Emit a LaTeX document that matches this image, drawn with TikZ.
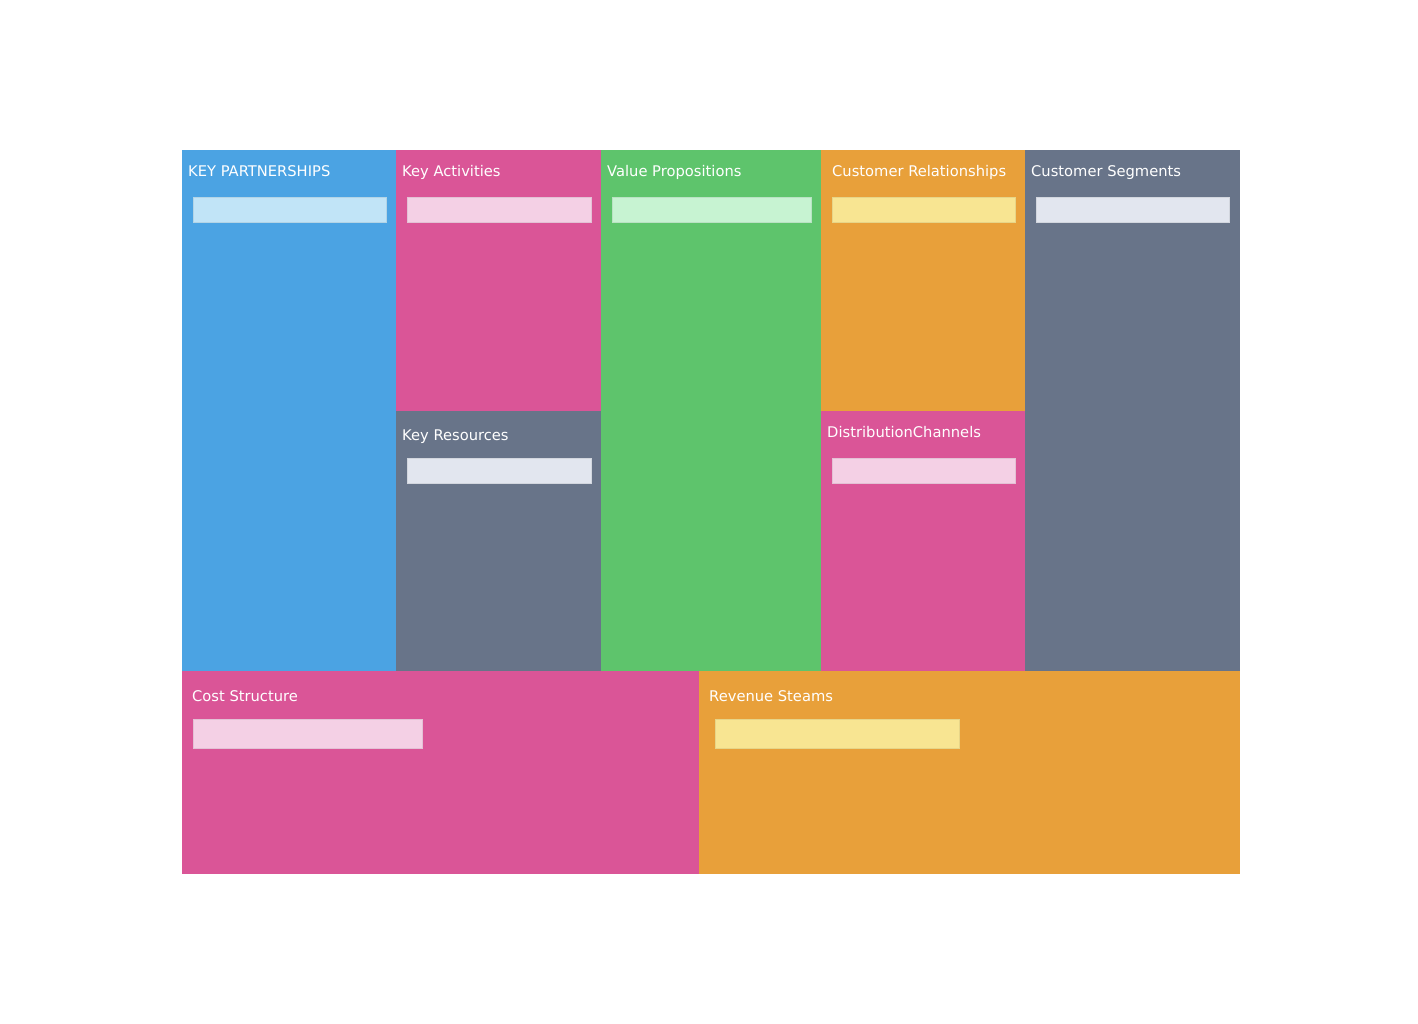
\documentclass[tikz,border=0pt]{standalone}
\usepackage{fontspec}
\setmainfont{DejaVu Sans}
\definecolor{cvblue}{HTML}{4BA3E3}
\definecolor{cvpink}{HTML}{DA5597}
\definecolor{cvgreen}{HTML}{5EC46C}
\definecolor{cvorange}{HTML}{E8A03A}
\definecolor{cvslate}{HTML}{687489}
\definecolor{barblue}{HTML}{C1E4F7}
\definecolor{barpink}{HTML}{F4D0E5}
\definecolor{bargreen}{HTML}{C7F3D2}
\definecolor{baryellow}{HTML}{F8E592}
\definecolor{bargray}{HTML}{E2E6EF}

\begin{document}
\begin{tikzpicture}[x=1pt,y=-1pt,
    title/.style={anchor=base west, inner sep=0pt, text=white, font=\fontsize{14.7}{18}\selectfont},
    bar/.style={fill=#1, draw=#1!93!black, line width=0.6pt}]
    \useasboundingbox[fill=white] (0,0) rectangle (1418,1024);

    % Top row blocks
    \fill[cvblue] (182,150) rectangle (396,671);  % Key partnerships
    \fill[cvpink] (396,150) rectangle (601,411);  % Key activities
    \fill[cvslate] (396,411) rectangle (601,671);  % Key resources
    \fill[cvgreen] (601,150) rectangle (821,671);  % Value propositions
    \fill[cvorange] (821,150) rectangle (1025,411);  % Customer relationships
    \fill[cvpink] (821,411) rectangle (1025,671);  % Distribution channels
    \fill[cvslate] (1025,150) rectangle (1240,671);  % Customer segments

    % Bottom row blocks
    \fill[cvpink] (182,671) rectangle (699,874);  % Cost structure
    \fill[cvorange] (699,671) rectangle (1240,874);  % Revenue

    % Titles
    \node[title] (kp) at (188,176.5) {KEY PARTNERSHIPS};
    \node[title] (ka) at (402,176.5) {Key Activities};
    \node[title] (vp) at (607,176.5) {Value Propositions};
    \node[title] (cr) at (832,176.5) {Customer Relationships};
    \node[title] (cs) at (1031,176.5) {Customer Segments};
    \node[title] (kr) at (402,440) {Key Resources};
    \node[title] (dc) at (827,437.5) {DistributionChannels};
    \node[title] (cost) at (192,701) {Cost Structure};
    \node[title] (rev) at (709,701) {Revenue Steams};

    % Input bars
    \draw[bar=barblue] (193,197) rectangle (386,222);
    \draw[bar=barpink] (407,197) rectangle (591,222);
    \draw[bar=bargreen] (612,197) rectangle (811,222);
    \draw[bar=baryellow] (832,197) rectangle (1015,222);
    \draw[bar=bargray] (1036,197) rectangle (1229,222);
    \draw[bar=bargray] (407,458) rectangle (591,483);
    \draw[bar=barpink] (832,458) rectangle (1015,483);
    \draw[bar=barpink] (193,719) rectangle (422,748);
    \draw[bar=baryellow] (715,719) rectangle (959,748);
\end{tikzpicture}
\end{document}
